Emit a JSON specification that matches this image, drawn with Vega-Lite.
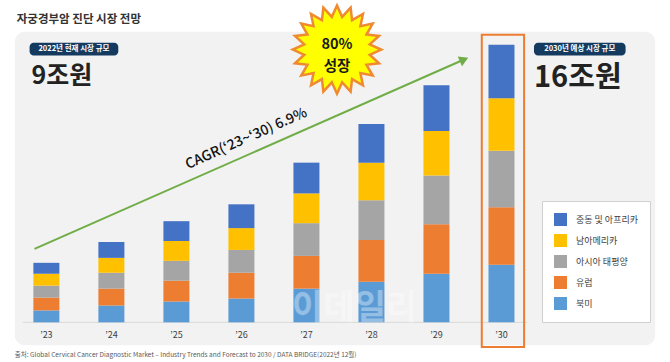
{
  "$schema": "https://vega.github.io/schema/vega-lite/v6.json",
  "width": 670,
  "height": 362,
  "autosize": {"type": "fit", "contains": "padding"},
  "padding": 0,
  "background": "#ffffff",
  "datasets": {
    "regions": [
      {"region": "북미", "rank": 1},
      {"region": "유럽", "rank": 2},
      {"region": "아시아 태평양", "rank": 3},
      {"region": "남아메리카", "rank": 4},
      {"region": "중동 및 아프리카", "rank": 5}
    ]
  },
  "config": {
    "view": {"stroke": null},
    "font": "Noto Sans CJK KR",
    "axis": {"disable": true},
    "legend": {
      "orient": "none",
      "legendX": 542,
      "legendY": 198,
      "fillColor": "#ffffff",
      "strokeColor": "#d0d0d0",
      "padding": 12,
      "symbolType": "square",
      "symbolSize": 169,
      "symbolStrokeWidth": 0,
      "symbolOpacity": 1,
      "labelFontSize": 9,
      "labelFont": "Noto Sans CJK KR",
      "labelColor": "#404040",
      "rowPadding": 8,
      "labelOffset": 9
    }
  },
  "layer": [
    {
      "data": {"values": [{"name": "panel"}]},
      "mark": {"type": "rect", "color": "#f2f2f2", "cornerRadius": 10},
      "encoding": {
        "x": {"datum": 2022.515, "type": "quantitative", "scale": {"domain": [2022.3636, 2032.5152], "nice": false, "zero": false}},
        "x2": {"datum": 2032.364},
        "y": {"datum": 293, "type": "quantitative", "scale": {"domain": [-40, 322], "nice": false, "zero": false}},
        "y2": {"datum": -23}
      }
    },
    {
      "data": {"values": [{"name": "baseline"}]},
      "mark": {"type": "rule", "color": "#d9d9d9", "strokeWidth": 1},
      "encoding": {
        "x": {"datum": 2022.636, "type": "quantitative", "scale": {"domain": [2022.3636, 2032.5152], "nice": false, "zero": false}},
        "x2": {"datum": 2030.394},
        "y": {"datum": 0, "type": "quantitative", "scale": {"domain": [-40, 322], "nice": false, "zero": false}}
      }
    },
    {
      "data": {"values": [
        {"year": 2023, "region": "북미", "value": 12},
        {"year": 2023, "region": "유럽", "value": 13},
        {"year": 2023, "region": "아시아 태평양", "value": 12},
        {"year": 2023, "region": "남아메리카", "value": 12},
        {"year": 2023, "region": "중동 및 아프리카", "value": 11},
        {"year": 2024, "region": "북미", "value": 17},
        {"year": 2024, "region": "유럽", "value": 17},
        {"year": 2024, "region": "아시아 태평양", "value": 16},
        {"year": 2024, "region": "남아메리카", "value": 15},
        {"year": 2024, "region": "중동 및 아프리카", "value": 16},
        {"year": 2025, "region": "북미", "value": 21},
        {"year": 2025, "region": "유럽", "value": 21},
        {"year": 2025, "region": "아시아 태평양", "value": 20},
        {"year": 2025, "region": "남아메리카", "value": 20},
        {"year": 2025, "region": "중동 및 아프리카", "value": 20},
        {"year": 2026, "region": "북미", "value": 24},
        {"year": 2026, "region": "유럽", "value": 26},
        {"year": 2026, "region": "아시아 태평양", "value": 23},
        {"year": 2026, "region": "남아메리카", "value": 22},
        {"year": 2026, "region": "중동 및 아프리카", "value": 24},
        {"year": 2027, "region": "북미", "value": 34},
        {"year": 2027, "region": "유럽", "value": 33},
        {"year": 2027, "region": "아시아 태평양", "value": 33},
        {"year": 2027, "region": "남아메리카", "value": 30},
        {"year": 2027, "region": "중동 및 아프리카", "value": 31},
        {"year": 2028, "region": "북미", "value": 41},
        {"year": 2028, "region": "유럽", "value": 42},
        {"year": 2028, "region": "아시아 태평양", "value": 40},
        {"year": 2028, "region": "남아메리카", "value": 38},
        {"year": 2028, "region": "중동 및 아프리카", "value": 39},
        {"year": 2029, "region": "북미", "value": 49},
        {"year": 2029, "region": "유럽", "value": 50},
        {"year": 2029, "region": "아시아 태평양", "value": 49},
        {"year": 2029, "region": "남아메리카", "value": 45},
        {"year": 2029, "region": "중동 및 아프리카", "value": 46},
        {"year": 2030, "region": "북미", "value": 58},
        {"year": 2030, "region": "유럽", "value": 58},
        {"year": 2030, "region": "아시아 태평양", "value": 57},
        {"year": 2030, "region": "남아메리카", "value": 53},
        {"year": 2030, "region": "중동 및 아프리카", "value": 54}
      ]},
      "transform": [
        {"lookup": "region", "from": {"data": {"name": "regions"}, "key": "region", "fields": ["rank"]}}
      ],
      "mark": {"type": "bar", "width": 26},
      "encoding": {
        "x": {"field": "year", "type": "quantitative", "axis": null, "scale": {"domain": [2022.3636, 2032.5152], "nice": false, "zero": false}},
        "y": {"field": "value", "type": "quantitative", "stack": "zero", "axis": null, "scale": {"domain": [-40, 322], "nice": false, "zero": false}},
        "order": {"field": "rank", "type": "quantitative", "sort": "ascending"},
        "color": {
          "field": "region",
          "type": "nominal",
          "scale": {
            "domain": ["북미", "유럽", "아시아 태평양", "남아메리카", "중동 및 아프리카"],
            "range": ["#5B9BD5", "#ED7D31", "#A5A5A5", "#FFC000", "#4472C4"]
          },
          "legend": {"title": null, "values": ["중동 및 아프리카", "남아메리카", "아시아 태평양", "유럽", "북미"]}
        }
      }
    },
    {
      "data": {"values": [{"name": "highlight"}]},
      "mark": {"type": "rect", "filled": false, "stroke": "#ED7D31", "strokeWidth": 2},
      "encoding": {
        "x": {"datum": 2029.697, "type": "quantitative", "scale": {"domain": [2022.3636, 2032.5152], "nice": false, "zero": false}},
        "x2": {"datum": 2030.348},
        "y": {"datum": 290, "type": "quantitative", "scale": {"domain": [-40, 322], "nice": false, "zero": false}},
        "y2": {"datum": -25}
      }
    },
    {
      "data": {"values": [{"label": "이데일리"}]},
      "mark": {"type": "text", "fontSize": 34, "fontWeight": "bold", "color": "#ffffff", "opacity": 0.35, "align": "center", "baseline": "middle"},
      "encoding": {
        "x": {"datum": 2027.742, "type": "quantitative", "scale": {"domain": [2022.3636, 2032.5152], "nice": false, "zero": false}},
        "y": {"datum": 13, "type": "quantitative", "scale": {"domain": [-40, 322], "nice": false, "zero": false}},
        "text": {"field": "label"}
      }
    },
    {
      "data": {"values": [
        {"year": 2023, "label": "’23"},
        {"year": 2024, "label": "’24"},
        {"year": 2025, "label": "’25"},
        {"year": 2026, "label": "’26"},
        {"year": 2027, "label": "’27"},
        {"year": 2028, "label": "’28"},
        {"year": 2029, "label": "’29"},
        {"year": 2030, "label": "’30"}
      ]},
      "mark": {"type": "text", "fontSize": 9, "color": "#404040", "baseline": "middle", "align": "center"},
      "encoding": {
        "x": {"field": "year", "type": "quantitative", "scale": {"domain": [2022.3636, 2032.5152], "nice": false, "zero": false}},
        "y": {"datum": -13, "type": "quantitative", "scale": {"domain": [-40, 322], "nice": false, "zero": false}},
        "text": {"field": "label"}
      }
    },
    {
      "data": {"values": [{"name": "arrow"}]},
      "mark": {"type": "rule", "color": "#70AD47", "strokeWidth": 2},
      "encoding": {
        "x": {"datum": 2022.818, "type": "quantitative", "scale": {"domain": [2022.3636, 2032.5152], "nice": false, "zero": false}},
        "x2": {"datum": 2029.424},
        "y": {"datum": 74, "type": "quantitative", "scale": {"domain": [-40, 322], "nice": false, "zero": false}},
        "y2": {"datum": 265}
      }
    },
    {
      "data": {"values": [{"name": "arrowhead"}]},
      "mark": {"type": "point", "shape": "triangle-up", "filled": true, "color": "#70AD47", "opacity": 1, "size": 110, "angle": 66},
      "encoding": {
        "x": {"datum": 2029.424, "type": "quantitative", "scale": {"domain": [2022.3636, 2032.5152], "nice": false, "zero": false}},
        "y": {"datum": 265, "type": "quantitative", "scale": {"domain": [-40, 322], "nice": false, "zero": false}}
      }
    },
    {
      "data": {"values": [{"label": "CAGR(‘23~‘30) 6.9%"}]},
      "mark": {"type": "text", "fontSize": 14, "fontWeight": 500, "color": "#111111", "angle": -24, "align": "center", "baseline": "middle"},
      "encoding": {
        "x": {"datum": 2026.076, "type": "quantitative", "scale": {"domain": [2022.3636, 2032.5152], "nice": false, "zero": false}},
        "y": {"datum": 185, "type": "quantitative", "scale": {"domain": [-40, 322], "nice": false, "zero": false}},
        "text": {"field": "label"}
      }
    },
    {
      "data": {"values": [{"name": "star"}]},
      "mark": {
        "type": "point",
        "shape": "M1,0L0.741,0.117L0.951,0.309L0.668,0.341L0.809,0.588L0.53,0.53L0.588,0.809L0.341,0.668L0.309,0.951L0.117,0.741L0,1L-0.117,0.741L-0.309,0.951L-0.341,0.668L-0.588,0.809L-0.53,0.53L-0.809,0.588L-0.668,0.341L-0.951,0.309L-0.741,0.117L-1,0L-0.741,-0.117L-0.951,-0.309L-0.668,-0.341L-0.809,-0.588L-0.53,-0.53L-0.588,-0.809L-0.341,-0.668L-0.309,-0.951L-0.117,-0.741L0,-1L0.117,-0.741L0.309,-0.951L0.341,-0.668L0.588,-0.809L0.53,-0.53L0.809,-0.588L0.668,-0.341L0.951,-0.309L0.741,-0.117Z",
        "filled": true,
        "fill": "#FFFF00",
        "stroke": "#F08A30",
        "strokeWidth": 2.5,
        "opacity": 1,
        "fillOpacity": 1,
        "size": 7800
      },
      "encoding": {
        "x": {"datum": 2027.47, "type": "quantitative", "scale": {"domain": [2022.3636, 2032.5152], "nice": false, "zero": false}},
        "y": {"datum": 275, "type": "quantitative", "scale": {"domain": [-40, 322], "nice": false, "zero": false}}
      }
    },
    {
      "data": {"values": [{"label": "80%", "v": 280}, {"label": "성장", "v": 257.5}]},
      "mark": {"type": "text", "fontSize": 14.5, "fontWeight": "bold", "color": "#1a1a1a", "align": "center", "baseline": "middle"},
      "encoding": {
        "x": {"datum": 2027.47, "type": "quantitative", "scale": {"domain": [2022.3636, 2032.5152], "nice": false, "zero": false}},
        "y": {"field": "v", "type": "quantitative", "scale": {"domain": [-40, 322], "nice": false, "zero": false}},
        "text": {"field": "label"}
      }
    },
    {
      "data": {"values": [{"x0": 2022.742, "x1": 2024.106}, {"x0": 2030.5, "x1": 2031.909}]},
      "mark": {"type": "rect", "color": "#143a60", "cornerRadius": 4},
      "encoding": {
        "x": {"field": "x0", "type": "quantitative", "scale": {"domain": [2022.3636, 2032.5152], "nice": false, "zero": false}},
        "x2": {"field": "x1"},
        "y": {"datum": 282, "type": "quantitative", "scale": {"domain": [-40, 322], "nice": false, "zero": false}},
        "y2": {"datum": 269}
      }
    },
    {
      "data": {"values": [{"xc": 2023.424, "label": "2022년 현재 시장 규모"}, {"xc": 2031.205, "label": "2030년 예상 시장 규모"}]},
      "mark": {"type": "text", "fontSize": 7.5, "fontWeight": "bold", "color": "#ffffff", "align": "center", "baseline": "middle"},
      "encoding": {
        "x": {"field": "xc", "type": "quantitative", "scale": {"domain": [2022.3636, 2032.5152], "nice": false, "zero": false}},
        "y": {"datum": 275.5, "type": "quantitative", "scale": {"domain": [-40, 322], "nice": false, "zero": false}},
        "text": {"field": "label"}
      }
    },
    {
      "data": {"values": [{"label": "9조원"}]},
      "mark": {"type": "text", "fontSize": 25, "fontWeight": "bold", "color": "#222222", "align": "left", "baseline": "middle"},
      "encoding": {
        "x": {"datum": 2022.773, "type": "quantitative", "scale": {"domain": [2022.3636, 2032.5152], "nice": false, "zero": false}},
        "y": {"datum": 248, "type": "quantitative", "scale": {"domain": [-40, 322], "nice": false, "zero": false}},
        "text": {"field": "label"}
      }
    },
    {
      "data": {"values": [{"label": "16조원"}]},
      "mark": {"type": "text", "fontSize": 29, "fontWeight": "bold", "color": "#222222", "align": "left", "baseline": "middle"},
      "encoding": {
        "x": {"datum": 2030.5, "type": "quantitative", "scale": {"domain": [2022.3636, 2032.5152], "nice": false, "zero": false}},
        "y": {"datum": 246, "type": "quantitative", "scale": {"domain": [-40, 322], "nice": false, "zero": false}},
        "text": {"field": "label"}
      }
    },
    {
      "data": {"values": [{"label": "자궁경부암 진단 시장 전망"}]},
      "mark": {"type": "text", "fontSize": 11.5, "fontWeight": "bold", "color": "#333333", "align": "left", "baseline": "middle"},
      "encoding": {
        "x": {"datum": 2022.545, "type": "quantitative", "scale": {"domain": [2022.3636, 2032.5152], "nice": false, "zero": false}},
        "y": {"datum": 305, "type": "quantitative", "scale": {"domain": [-40, 322], "nice": false, "zero": false}},
        "text": {"field": "label"}
      }
    },
    {
      "data": {"values": [{"label": "출처: Global Cervical Cancer Diagnostic Market – Industry Trends and Forecast to 2030 / DATA BRIDGE(2022년 12월)"}]},
      "mark": {"type": "text", "fontSize": 6.5, "color": "#595959", "align": "left", "baseline": "middle"},
      "encoding": {
        "x": {"datum": 2022.515, "type": "quantitative", "scale": {"domain": [2022.3636, 2032.5152], "nice": false, "zero": false}},
        "y": {"datum": -33, "type": "quantitative", "scale": {"domain": [-40, 322], "nice": false, "zero": false}},
        "text": {"field": "label"}
      }
    }
  ]
}
